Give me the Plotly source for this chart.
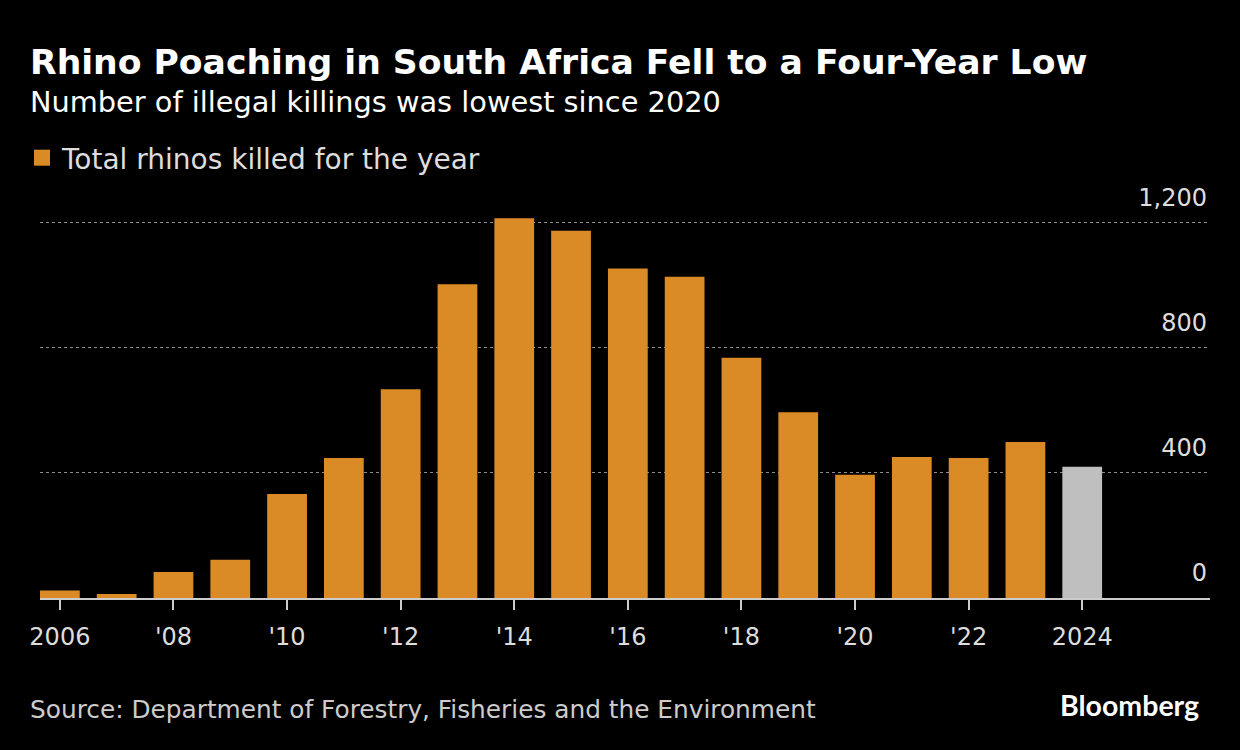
import plotly.graph_objects as go

years = list(range(2006, 2025))
killed = [24, 13, 83, 122, 333, 448, 668, 1004, 1215, 1175, 1054, 1028, 769, 594, 394, 451, 448, 499, 420]
tick_years = [2006, 2008, 2010, 2012, 2014, 2016, 2018, 2020, 2022, 2024]
tick_labels = ["2006", "'08", "'10", "'12", "'14", "'16", "'18", "'20", "'22", "2024"]
y_ticks = [0, 400, 800, 1200]
y_tick_labels = ["0", "400", "800", "1,200"]

ORANGE = "#DB8B26"
GREY = "#BFBFBF"
FONT = "DejaVu Sans, sans-serif"

fig = go.Figure()
fig.add_trace(go.Bar(x=years[:-1], y=killed[:-1], marker=dict(color=ORANGE, line=dict(width=0)),
                     width=0.7, name="Total rhinos killed for the year", showlegend=False))
fig.add_trace(go.Bar(x=years[-1:], y=killed[-1:], marker=dict(color=GREY, line=dict(width=0)),
                     width=0.7, name="2024", showlegend=False))
# legend key (no data, legend entry only)
fig.add_trace(go.Scatter(x=[None], y=[None], mode="markers", name="Total rhinos killed for the year",
                         marker=dict(symbol="square", size=19, color=ORANGE), showlegend=True))

L, R, T, B = 40, 30, 167, 152
W, H = 1240, 750
pw = W - L - R
ph = H - T - B

def px(p):
    return (p - L) / pw

def py(p):
    return (H - B - p) / ph

fig.update_layout(
    width=W, height=H,
    margin=dict(l=L, r=R, t=T, b=B, autoexpand=False),
    paper_bgcolor="#000000", plot_bgcolor="#000000",
    font=dict(family=FONT, color="#DDDDDD", size=24),
    legend=dict(xref="container", yref="container", x=22 / W, y=1 - 133 / H,
                xanchor="left", yanchor="top", orientation="h",
                font=dict(size=28, color="#DDDDDD", family=FONT),
                itemsizing="trace", bgcolor="rgba(0,0,0,0)", itemwidth=30),
    xaxis=dict(range=[2005.65, 2026.25], tickmode="array", tickvals=tick_years, ticktext=tick_labels,
               showgrid=False, zeroline=False, showline=True, linecolor="#CCCCCC", linewidth=2,
               ticks="outside", ticklen=10, tickwidth=2, tickcolor="#CCCCCC", ticklabelstandoff=6,
               tickfont=dict(size=24, color="#DDDDDD", family=FONT)),
    yaxis=dict(range=[0, 1379], side="right", tickmode="array", tickvals=y_ticks, ticktext=y_tick_labels,
               showgrid=True, gridcolor="#8C8C8C", griddash="3px,3px", gridwidth=1,
               zeroline=False, showline=False, ticks="",
               ticklabelposition="inside top", ticklabelshift=-9, ticklabelstandoff=0,
               tickfont=dict(size=24, color="#DDDDDD", family=FONT)),
    annotations=[
        dict(text="<b>Rhino Poaching in South Africa Fell to a Four-Year Low</b>", xref="paper", yref="paper",
             x=px(28), y=py(62), xanchor="left", yanchor="middle", showarrow=False,
             font=dict(size=34.6, color="#FFFFFF", family=FONT)),
        dict(text="Number of illegal killings was lowest since 2020", xref="paper", yref="paper",
             x=px(28), y=py(102), xanchor="left", yanchor="middle", showarrow=False,
             font=dict(size=28.8, color="#FFFFFF", family=FONT)),
        dict(text="Source: Department of Forestry, Fisheries and the Environment", xref="paper", yref="paper",
             x=px(28), y=py(709), xanchor="left", yanchor="middle", showarrow=False,
             font=dict(size=24.8, color="#CCCCCC", family=FONT)),
        dict(text="<b>Bloomberg</b>", xref="paper", yref="paper",
             x=px(1201), y=py(705), xanchor="right", yanchor="middle", showarrow=False,
             font=dict(size=28.5, color="#FFFFFF", family="Lato, DejaVu Sans, sans-serif")),
    ],
)

fig.write_html("out.html")
